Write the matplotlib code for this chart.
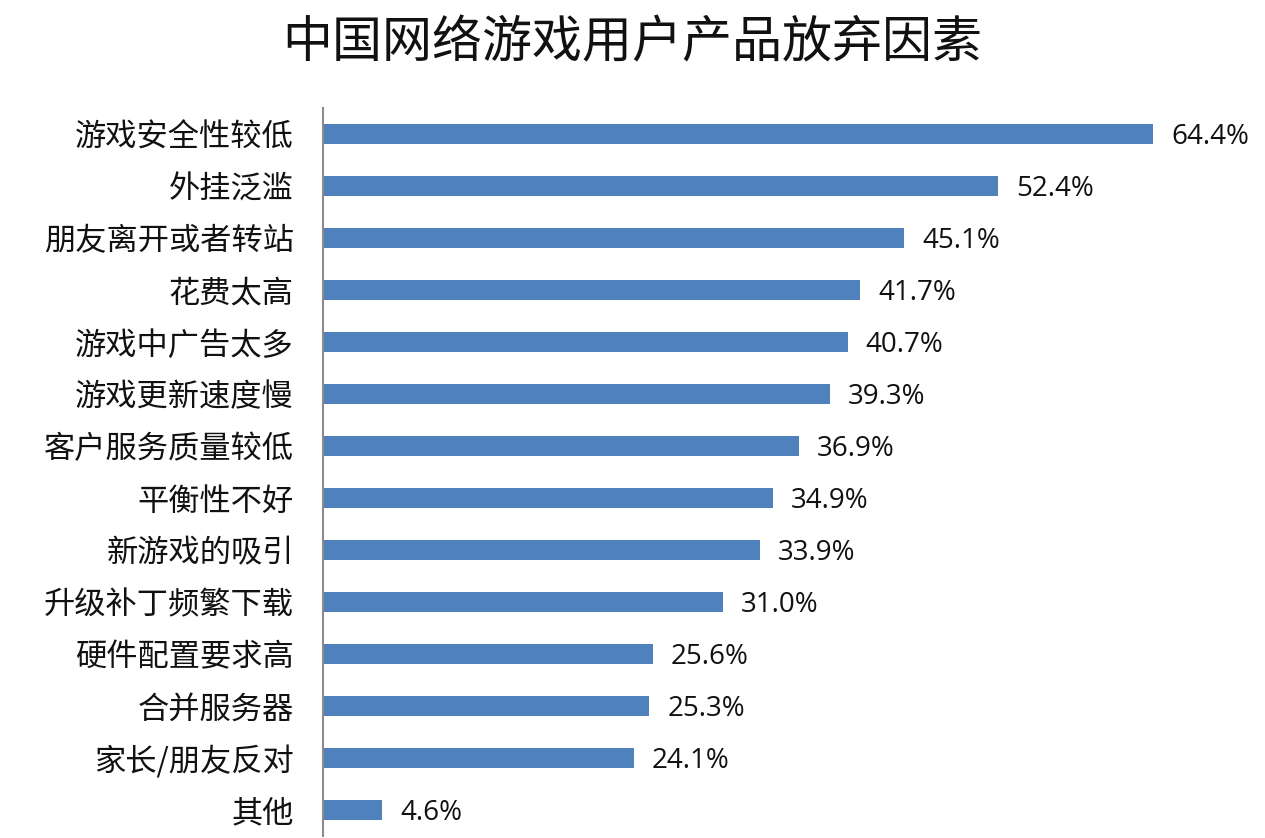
import matplotlib
matplotlib.use("Agg")
import matplotlib.pyplot as plt

title = "中国网络游戏用户产品放弃因素"
categories = ["游戏安全性较低", "外挂泛滥", "朋友离开或者转站", "花费太高", "游戏中广告太多",
              "游戏更新速度慢", "客户服务质量较低", "平衡性不好", "新游戏的吸引", "升级补丁频繁下载",
              "硬件配置要求高", "合并服务器", "家长/朋友反对", "其他"]
values = [64.4, 52.4, 45.1, 41.7, 40.7, 39.3, 36.9, 34.9, 33.9, 31.0, 25.6, 25.3, 24.1, 4.6]

cjk = ["Noto Sans CJK SC", "DejaVu Sans"]
plt.rcParams['font.family'] = cjk

fig = plt.figure(figsize=(12.65, 8.38), dpi=100)
fig.patch.set_facecolor("white")

ax = fig.add_axes([323/1265, 2/838, (1265-323)/1265, (836-108)/838])
ax.patch.set_alpha(0)
y = list(range(len(categories)))
ax.barh(y, values, height=0.39, color="#4F81BD", zorder=2)
ax.set_ylim(len(categories) - 0.5, -0.5)
ax.set_xlim(0, (1265-323)/((1153-323)/64.4))
ax.set_yticks(y)
ax.set_yticklabels(categories, fontsize=22.5, color="#111111")
ax.tick_params(axis="y", length=0, pad=21)
ax.set_xticks([])
for s in ["top", "right", "bottom"]:
    ax.spines[s].set_visible(False)
ax.spines["left"].set_color("#8c8c8c")
ax.spines["left"].set_linewidth(1.5)

for yi, v in zip(y, values):
    ax.annotate(f"{v:.1f}%", xy=(v, yi), xytext=(13, -2), textcoords="offset points",
                ha="left", va="center", fontsize=20, family=["Open Sans", "DejaVu Sans"],
                color="#111111")

fig.text(0.5, 0.948, title, ha="center", va="center", fontsize=36, fontweight="medium",
         color="#111111")

fig.savefig("out.png", dpi=100, facecolor="white")
